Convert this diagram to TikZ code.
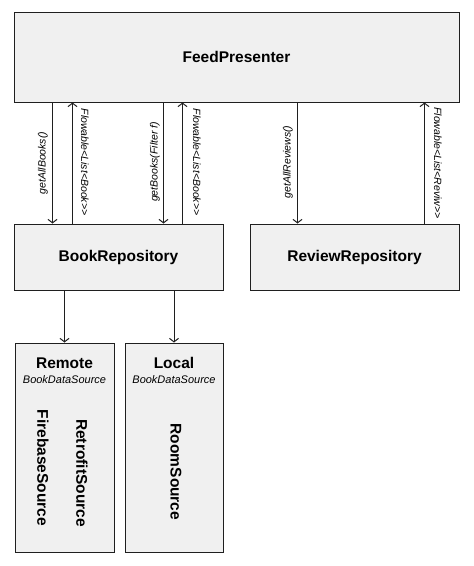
\documentclass[tikz,border=0pt]{standalone}
\usepackage{fontspec}
\setmainfont{Liberation Sans}[Ligatures=TeXOff]
\usetikzlibrary{arrows.meta}

\tikzset{
  box/.style={draw=black!88, fill=black!6, line width=1pt, inner sep=0pt},
  title/.style={font=\fontsize{15.5}{17}\selectfont\bfseries},
  source/.style={font=\fontsize{11}{13}\selectfont\itshape, inner sep=0pt},
  call/.style={font=\fontsize{10.5}{12}\selectfont\itshape, inner sep=0pt},
  arr/.style={-{Straight Barb[length=3.5pt,width=9pt]}, line width=1pt, draw=black!88}
}

\begin{document}
\begin{tikzpicture}[x=1pt,y=1pt,yscale=-1]
    \useasboundingbox (0,0) rectangle (474,566);

    %Boxes
    \node[box, minimum width=445pt, minimum height=90pt, title] (feed) at (236.5,57) {FeedPresenter};
    \node[box, minimum width=209pt, minimum height=66pt, title] (bookrepo) at (118.5,257) {BookRepository};
    \node[box, minimum width=209pt, minimum height=66pt, title] (reviewrepo) at (354.5,257) {ReviewRepository};
    \node[box, minimum width=99pt, minimum height=209pt] (remote) at (64.5,447.5) {};
    \node[box, minimum width=98pt, minimum height=209pt] (local) at (174,447.5) {};

    %Calls and results
    \draw[arr] ([xshift=39pt]feed.south west) -- ([xshift=39pt]bookrepo.north west);
    \draw[arr] ([xshift=59pt]bookrepo.north west) -- ([xshift=59pt]feed.south west);
    \draw[arr] ([xshift=150pt]feed.south west) -- ([xshift=150pt]bookrepo.north west);
    \draw[arr] ([xshift=169pt]bookrepo.north west) -- ([xshift=169pt]feed.south west);
    \draw[arr] ([xshift=284pt]feed.south west) -- ([xshift=48pt]reviewrepo.north west);
    \draw[arr] ([xshift=175pt]reviewrepo.north west) -- ([xshift=411pt]feed.south west);
    \draw[arr] (bookrepo.south -| remote.north) -- (remote.north);
    \draw[arr] (bookrepo.south -| local.north) -- (local.north);

    % Text Node
    \node[call, rotate=90] (allbooks) at (43,163) {getAllBooks()};
    \node[call, rotate=-90] (bookflow) at (85,162) {Flowable<List<Book>>};
    \node[call, rotate=90] (filterbooks) at (155,162) {getBooks(Filter f)};
    \node[call, rotate=-90] (filterflow) at (197,162) {Flowable<List<Book>>};
    \node[call, rotate=90] (allreviews) at (288,162) {getAllReviews()};
    \node[call, rotate=-90] (reviewflow) at (438,163) {Flowable<List<Reviw>>};

    % Text Node
    \node[title, inner sep=0pt] (remotename) at (64.5,363) {Remote};
    \node[source] (remotesrc) at (64.5,380) {BookDataSource};
    \node[title, inner sep=0pt, rotate=-90] (firebase) at (43,468) {FirebaseSource};
    \node[title, inner sep=0pt, rotate=-90] (retrofit) at (82,473) {RetrofitSource};
    \node[title, inner sep=0pt] (localname) at (174,363) {Local};
    \node[source] (localsrc) at (174,380) {BookDataSource};
    \node[title, inner sep=0pt, rotate=-90] (room) at (176,472) {RoomSource};

\end{tikzpicture}
\end{document}
